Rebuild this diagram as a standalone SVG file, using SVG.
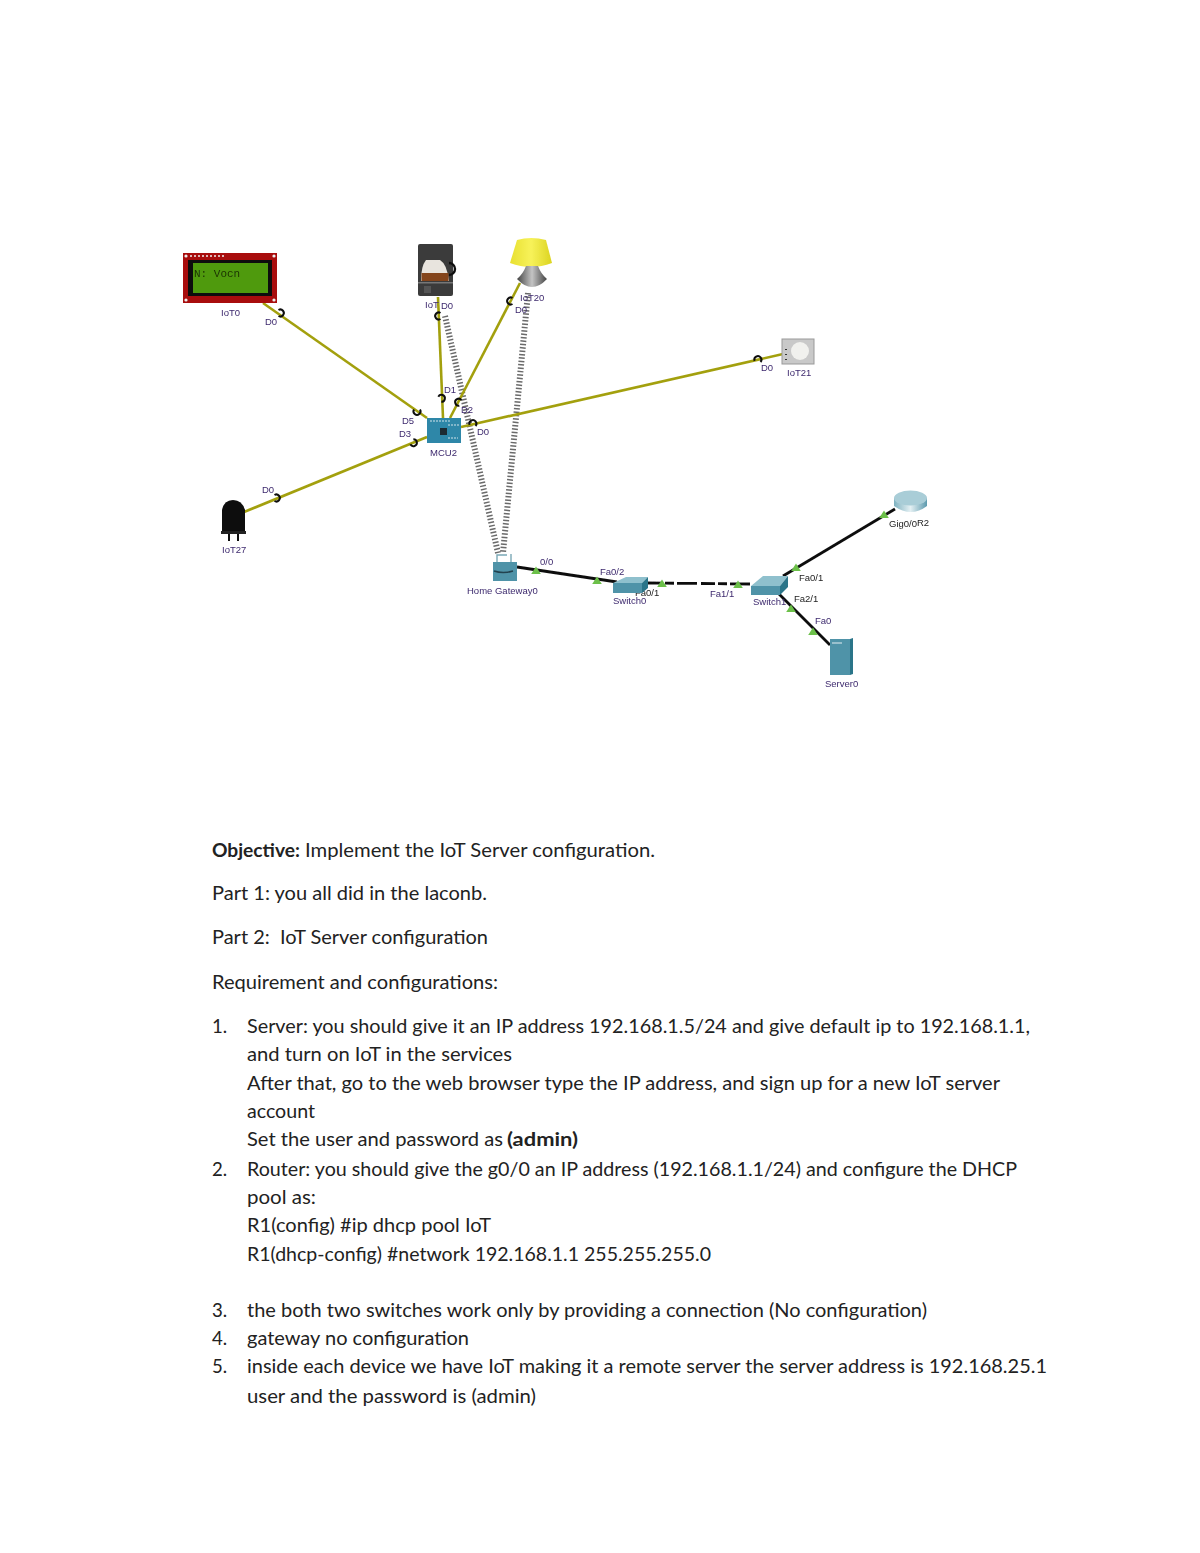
<svg xmlns="http://www.w3.org/2000/svg" width="1200" height="1553" viewBox="0 0 1200 1553">
<style>
.t{font:18.6px Lato,"Noto Sans",sans-serif;fill:#222}
.b{font-weight:700}
.l{font:9.5px "Liberation Sans",sans-serif;fill:#3d2a6e}
.d{font:9.5px "Liberation Sans",sans-serif;fill:#222}
.y{stroke:#a3a010;stroke-width:2.6;fill:none}
.k{stroke:#111;stroke-width:2.8;fill:none}
.w{stroke:#6a6a6a;stroke-width:6;stroke-dasharray:1.5 1.9;fill:none}
.h{stroke:#111;stroke-width:2;fill:none}
.g{fill:#6cc04a}
.teal{fill:#4f93a8}
</style>
<defs>
<filter id="soft" x="-5%" y="-5%" width="110%" height="110%"><feGaussianBlur stdDeviation="0.6"/></filter>
<path id="hook" class="h" d="M-2.5 -3A3.500 3.500 0 1 1 -2.500 3"/>
<path id="tri" class="g" d="M0 -4.500L4.800 3H-4.800Z"/>
<linearGradient id="rt" x1="0" x2="1" y1="0" y2="0"><stop offset="0" stop-color="#7fb2c0"/><stop offset=".5" stop-color="#e4f0f3"/><stop offset="1" stop-color="#5d9aae"/></linearGradient>
<linearGradient id="lamp" x1="0" x2="1" y1="0" y2="0"><stop offset="0" stop-color="#e8e030"/><stop offset=".5" stop-color="#f7f25a"/><stop offset="1" stop-color="#dcd420"/></linearGradient>
<linearGradient id="base" x1="0" x2="1" y1="0" y2="0"><stop offset="0" stop-color="#444"/><stop offset=".5" stop-color="#c4c4c4"/><stop offset="1" stop-color="#444"/></linearGradient>
</defs>
<rect width="1200" height="1553" fill="#fff"/>
<g filter="url(#soft)">
<g id="connectors">
<path class="w" d="M445 316L498 553"/>
<path class="w" d="M528 293L503 553"/>
<path class="y" d="M263 303L427 418"/>
<path class="y" d="M438 297L443 418"/>
<path class="y" d="M520 283L450 418"/>
<path class="y" d="M244 512L427 437"/>
<path class="y" d="M461 427L783 354"/>
<path class="k" d="M517 567L617 582"/>
<path class="k" d="M648 583L752 584" stroke-dasharray="14 3 9 3 20 4"/>
<path class="k" d="M783 576L895 509"/>
<path class="k" d="M778 593L830 645"/>
<use href="#hook" x="281" y="313"/><use href="#hook" x="417" y="412" transform="rotate(90 417 412)"/>
<use href="#hook" x="438" y="316" transform="rotate(180 438 316)"/><use href="#hook" x="442" y="398" transform="rotate(-30 442 398)"/>
<use href="#hook" x="510" y="301" transform="rotate(180 510 301)"/><use href="#hook" x="458" y="402" transform="rotate(200 458 402)"/>
<use href="#hook" x="277" y="498"/><use href="#hook" x="414" y="443" transform="rotate(30 414 443)"/>
<use href="#hook" x="473" y="423" transform="rotate(-80 473 423)"/><use href="#hook" x="758" y="359" transform="rotate(-80 758 359)"/>
<use href="#tri" x="536" y="571"/><use href="#tri" x="597" y="581"/><use href="#tri" x="662" y="584"/><use href="#tri" x="738" y="585"/>
<use href="#tri" x="796" y="568"/><use href="#tri" x="884" y="515"/><use href="#tri" x="791" y="609"/><use href="#tri" x="813" y="632"/>
<text class="l" x="265" y="325">D0</text><text class="l" x="425" y="308">IoT</text><text class="l" x="441" y="309">D0</text>
<text class="l" x="515" y="313">D0</text><text class="l" x="444" y="393">D1</text><text class="l" x="461" y="413">D2</text>
<text class="l" x="402" y="424">D5</text><text class="l" x="399" y="437">D3</text><text class="l" x="477" y="435">D0</text>
<text class="l" x="262" y="493">D0</text><text class="l" x="761" y="371">D0</text>
<text class="l" x="540" y="565">0/0</text><text class="l" x="600" y="575">Fa0/2</text><text class="d" x="635" y="596">Fa0/1</text>
<text class="l" x="710" y="597">Fa1/1</text><text class="d" x="799" y="581">Fa0/1</text><text class="d" x="794" y="602">Fa2/1</text><text class="l" x="815" y="624">Fa0</text>
<text class="d" x="889" y="527">Gig0/0</text>
</g>
<g id="iot0">
<rect x="183" y="253" width="94" height="50" fill="#a81010"/>
<rect x="188" y="260" width="84" height="36" fill="#111"/>
<rect x="193" y="263" width="75" height="30" fill="#4f9a0a"/>
<path d="M190 256H224" stroke="#eee" stroke-width="1.6" stroke-dasharray="2 2"/>
<circle cx="186" cy="256" r="1.6" fill="#eee"/><circle cx="274" cy="256" r="1.6" fill="#eee"/><circle cx="186" cy="300" r="1.6" fill="#eee"/><circle cx="274" cy="300" r="1.6" fill="#eee"/>
<text x="194" y="277" style="font:11px 'Liberation Mono',monospace;fill:#1c3306">N: Vocn</text>
<text class="l" x="221" y="316">IoT0</text>
</g>
<g id="coffee">
<rect x="418" y="244" width="35" height="52" rx="2" fill="#3a3a3a"/>
<rect x="418" y="282" width="35" height="1.500" fill="#777"/>
<path d="M426 260H440Q447 264 449 281H421Q421 266 426 260Z" fill="#e8e4de"/>
<path d="M421.500 273H448.500V281H421.500Z" fill="#84451c"/>
<path d="M449 263A5 5 0 0 1 449 275" fill="none" stroke="#111" stroke-width="2.400"/>
<rect x="424" y="286" width="7" height="7" fill="#555"/>
</g>
<g id="lamp">
<path d="M517 240Q531 236 546 240L552 263Q531 271 510 263Z" fill="url(#lamp)"/>
<path d="M526 266H538Q541 274 547 279Q532 295 517 279Q523 274 526 266Z" fill="url(#base)"/>
<text class="l" x="520" y="301">IoT20</text>
</g>
<g id="sensor">
<rect x="782" y="339" width="32" height="25" fill="#c9c9c9" stroke="#999"/>
<circle cx="800" cy="351" r="9" fill="#f1f1ee"/>
<path d="M786 349v1M786 354v1M786 359v1" stroke="#333" stroke-width="2"/>
<text class="l" x="787" y="376">IoT21</text>
</g>
<g id="mcu">
<rect x="427" y="418" width="34" height="25" fill="#2f87a8"/>
<rect x="440" y="428" width="7" height="7" fill="#1b2a33"/>
<path d="M448 425H459M430 421H450M448 438H458" stroke="#cfe3ea" stroke-width="1.2" stroke-dasharray="2 1"/>
<text class="l" x="430" y="456">MCU2</text>
</g>
<g id="led">
<path d="M222 533V510Q224 500 233 500Q242 500 245 510V533Z" fill="#080808"/>
<rect x="221" y="531" width="25" height="3" fill="#222"/>
<path d="M229 534V541M238 534V541" stroke="#111" stroke-width="2"/>
<text class="l" x="222" y="553">IoT27</text>
</g>
<g id="gateway">
<rect x="493" y="562" width="24" height="19" class="teal"/>
<path d="M497 562V555H507M511 562V554" stroke="#7aa8b6" stroke-width="1.400" fill="none"/>
<path d="M494 571Q503 574 513 571" stroke="#24424f" stroke-width="1.600" fill="none"/>
<text class="l" x="467" y="594">Home Gateway0</text>
</g>
<g id="switch0">
<path d="M613 583L626 577H648L642 583Z" fill="#8fc0cd"/>
<rect x="613" y="583" width="29" height="10" class="teal"/>
<path d="M642 583L648 577V588L642 593Z" fill="#2a7489"/>
<text class="l" x="613" y="604">Switch0</text>
</g>
<g id="switch1">
<path d="M751 586L763 576H788L780 586Z" fill="#8fc0cd"/>
<rect x="751" y="586" width="29" height="9" class="teal"/>
<path d="M780 586L788 576V587L780 595Z" fill="#2a7489"/>
<text class="l" x="753" y="605">Switch1</text>
</g>
<g id="router">
<path d="M894 498V506Q911 518 927 506V498Z" fill="url(#rt)"/>
<ellipse cx="910.500" cy="498" rx="16.500" ry="7.500" fill="#a9cdd7"/>
<text class="d" x="917" y="526">R2</text>
</g>
<g id="server">
<rect x="830" y="639" width="20" height="36" class="teal"/>
<path d="M850 639L853 638V674L850 675Z" fill="#2a7489"/>
<path d="M832 643H842" stroke="#b9d5dd" stroke-width="1.400"/>
<text class="l" x="825" y="687">Server0</text>
</g>
</g>
<g id="document">
<text class="t" y="857"><tspan class="b" x="212" textLength="88" lengthAdjust="spacingAndGlyphs">Objective:</tspan><tspan x="305" textLength="350" lengthAdjust="spacingAndGlyphs">Implement the IoT Server configuration.</tspan></text>
<text class="t" x="212" y="900" textLength="275" lengthAdjust="spacingAndGlyphs">Part 1: you all did in the laconb.</text>
<text class="t" x="212" y="944" textLength="276" lengthAdjust="spacingAndGlyphs" xml:space="preserve">Part 2:  IoT Server configuration</text>
<text class="t" x="212" y="989" textLength="286" lengthAdjust="spacingAndGlyphs">Requirement and configurations:</text>
<text class="t" x="212" y="1033">1.</text>
<text class="t" x="247" y="1033" textLength="783" lengthAdjust="spacingAndGlyphs">Server: you should give it an IP address 192.168.1.5/24 and give default ip to 192.168.1.1,</text>
<text class="t" x="247" y="1061" textLength="265" lengthAdjust="spacingAndGlyphs">and turn on IoT in the services</text>
<text class="t" x="247" y="1090" textLength="753" lengthAdjust="spacingAndGlyphs">After that, go to the web browser type the IP address, and sign up for a new IoT server</text>
<text class="t" x="247" y="1118" textLength="68" lengthAdjust="spacingAndGlyphs">account</text>
<text class="t" y="1146"><tspan x="247" textLength="256" lengthAdjust="spacingAndGlyphs">Set the user and password as</tspan><tspan class="b" x="507" textLength="71" lengthAdjust="spacingAndGlyphs">(admin)</tspan></text>
<text class="t" x="212" y="1176">2.</text>
<text class="t" x="247" y="1176" textLength="770" lengthAdjust="spacingAndGlyphs">Router: you should give the g0/0 an IP address (192.168.1.1/24) and configure the DHCP</text>
<text class="t" x="247" y="1204" textLength="69" lengthAdjust="spacingAndGlyphs">pool as:</text>
<text class="t" x="247" y="1232" textLength="244" lengthAdjust="spacingAndGlyphs">R1(config) #ip dhcp pool IoT</text>
<text class="t" x="247" y="1261" textLength="464" lengthAdjust="spacingAndGlyphs">R1(dhcp-config) #network 192.168.1.1 255.255.255.0</text>
<text class="t" x="212" y="1317">3.</text>
<text class="t" x="247" y="1317" textLength="680" lengthAdjust="spacingAndGlyphs">the both two switches work only by providing a connection (No configuration)</text>
<text class="t" x="212" y="1345">4.</text>
<text class="t" x="247" y="1345" textLength="222" lengthAdjust="spacingAndGlyphs">gateway no configuration</text>
<text class="t" x="212" y="1373">5.</text>
<text class="t" x="247" y="1373" textLength="800" lengthAdjust="spacingAndGlyphs">inside each device we have IoT making it a remote server the server address is 192.168.25.1</text>
<text class="t" x="247" y="1403" textLength="289" lengthAdjust="spacingAndGlyphs">user and the password is (admin)</text>
</g>
</svg>
